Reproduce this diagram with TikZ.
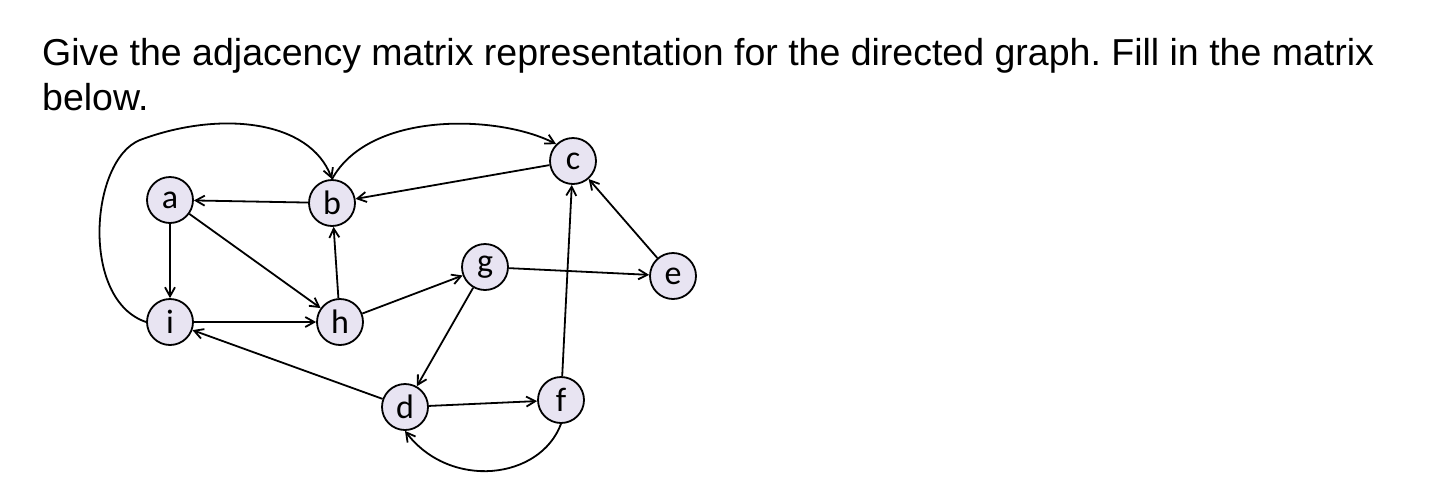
\documentclass[tikz,border=0pt]{standalone}
\usepackage{fontspec}
\setmainfont{Liberation Sans}
\newfontfamily\nodefont{Carlito}
\usetikzlibrary{arrows.meta}
\definecolor{nodefill}{RGB}{232,228,242}
\frenchspacing
\begin{document}
\begin{tikzpicture}[x=1pt,y=-1pt,
  vtx/.style={circle,draw=black,line width=1.8pt,fill=nodefill,minimum size=46pt,inner sep=0pt,font=\nodefont\fontsize{34}{34}\selectfont},
  edge/.style={-{Straight Barb[length=9pt,width=10pt]},line width=1.8pt}]
\useasboundingbox (0,0) rectangle (1430,496);
\node[anchor=base west,font=\fontsize{37.5}{40}\selectfont,inner sep=0pt] (t1) at (42,65) {Give the adjacency matrix representation for the directed graph. Fill in the matrix};
\node[anchor=base west,font=\fontsize{37.5}{40}\selectfont,inner sep=0pt] (t2) at (42,110) {below.};
\node[vtx] (a) at (170,200) {a};
\node[vtx] (b) at (332,203) {b};
\node[vtx] (c) at (573,161) {c};
\node[vtx] (e) at (673,276) {e};
\node[vtx] (g) at (485,267) {g};
\node[vtx] (i) at (170,322) {i};
\node[vtx] (h) at (340,322) {h};
\node[vtx] (d) at (405,407) {d};
\node[vtx] (f) at (561,400) {f};
\draw[edge] (b) -- (a);
\draw[edge] (c) -- (b);
\draw[edge] (b.north) .. controls (370,110) and (500,115) .. (c.north west);
\draw[edge] (i.west) .. controls (80,300) and (90,160) .. (140,140) .. controls (220,110) and (310,120) .. (b.north);
\draw[edge] (a) -- (i);
\draw[edge] (a) -- (h);
\draw[edge] (h) -- (b);
\draw[edge] (i) -- (h);
\draw[edge] (h) -- (g);
\draw[edge] (g) -- (e);
\draw[edge] (g) -- (d);
\draw[edge] (d) -- (i);
\draw[edge] (d) -- (f);
\draw[edge] (f) -- (c);
\draw[edge] (e) -- (c);
\draw[edge] (f.south) .. controls (540,480) and (450,490) .. (d.south);
\end{tikzpicture}
\end{document}
